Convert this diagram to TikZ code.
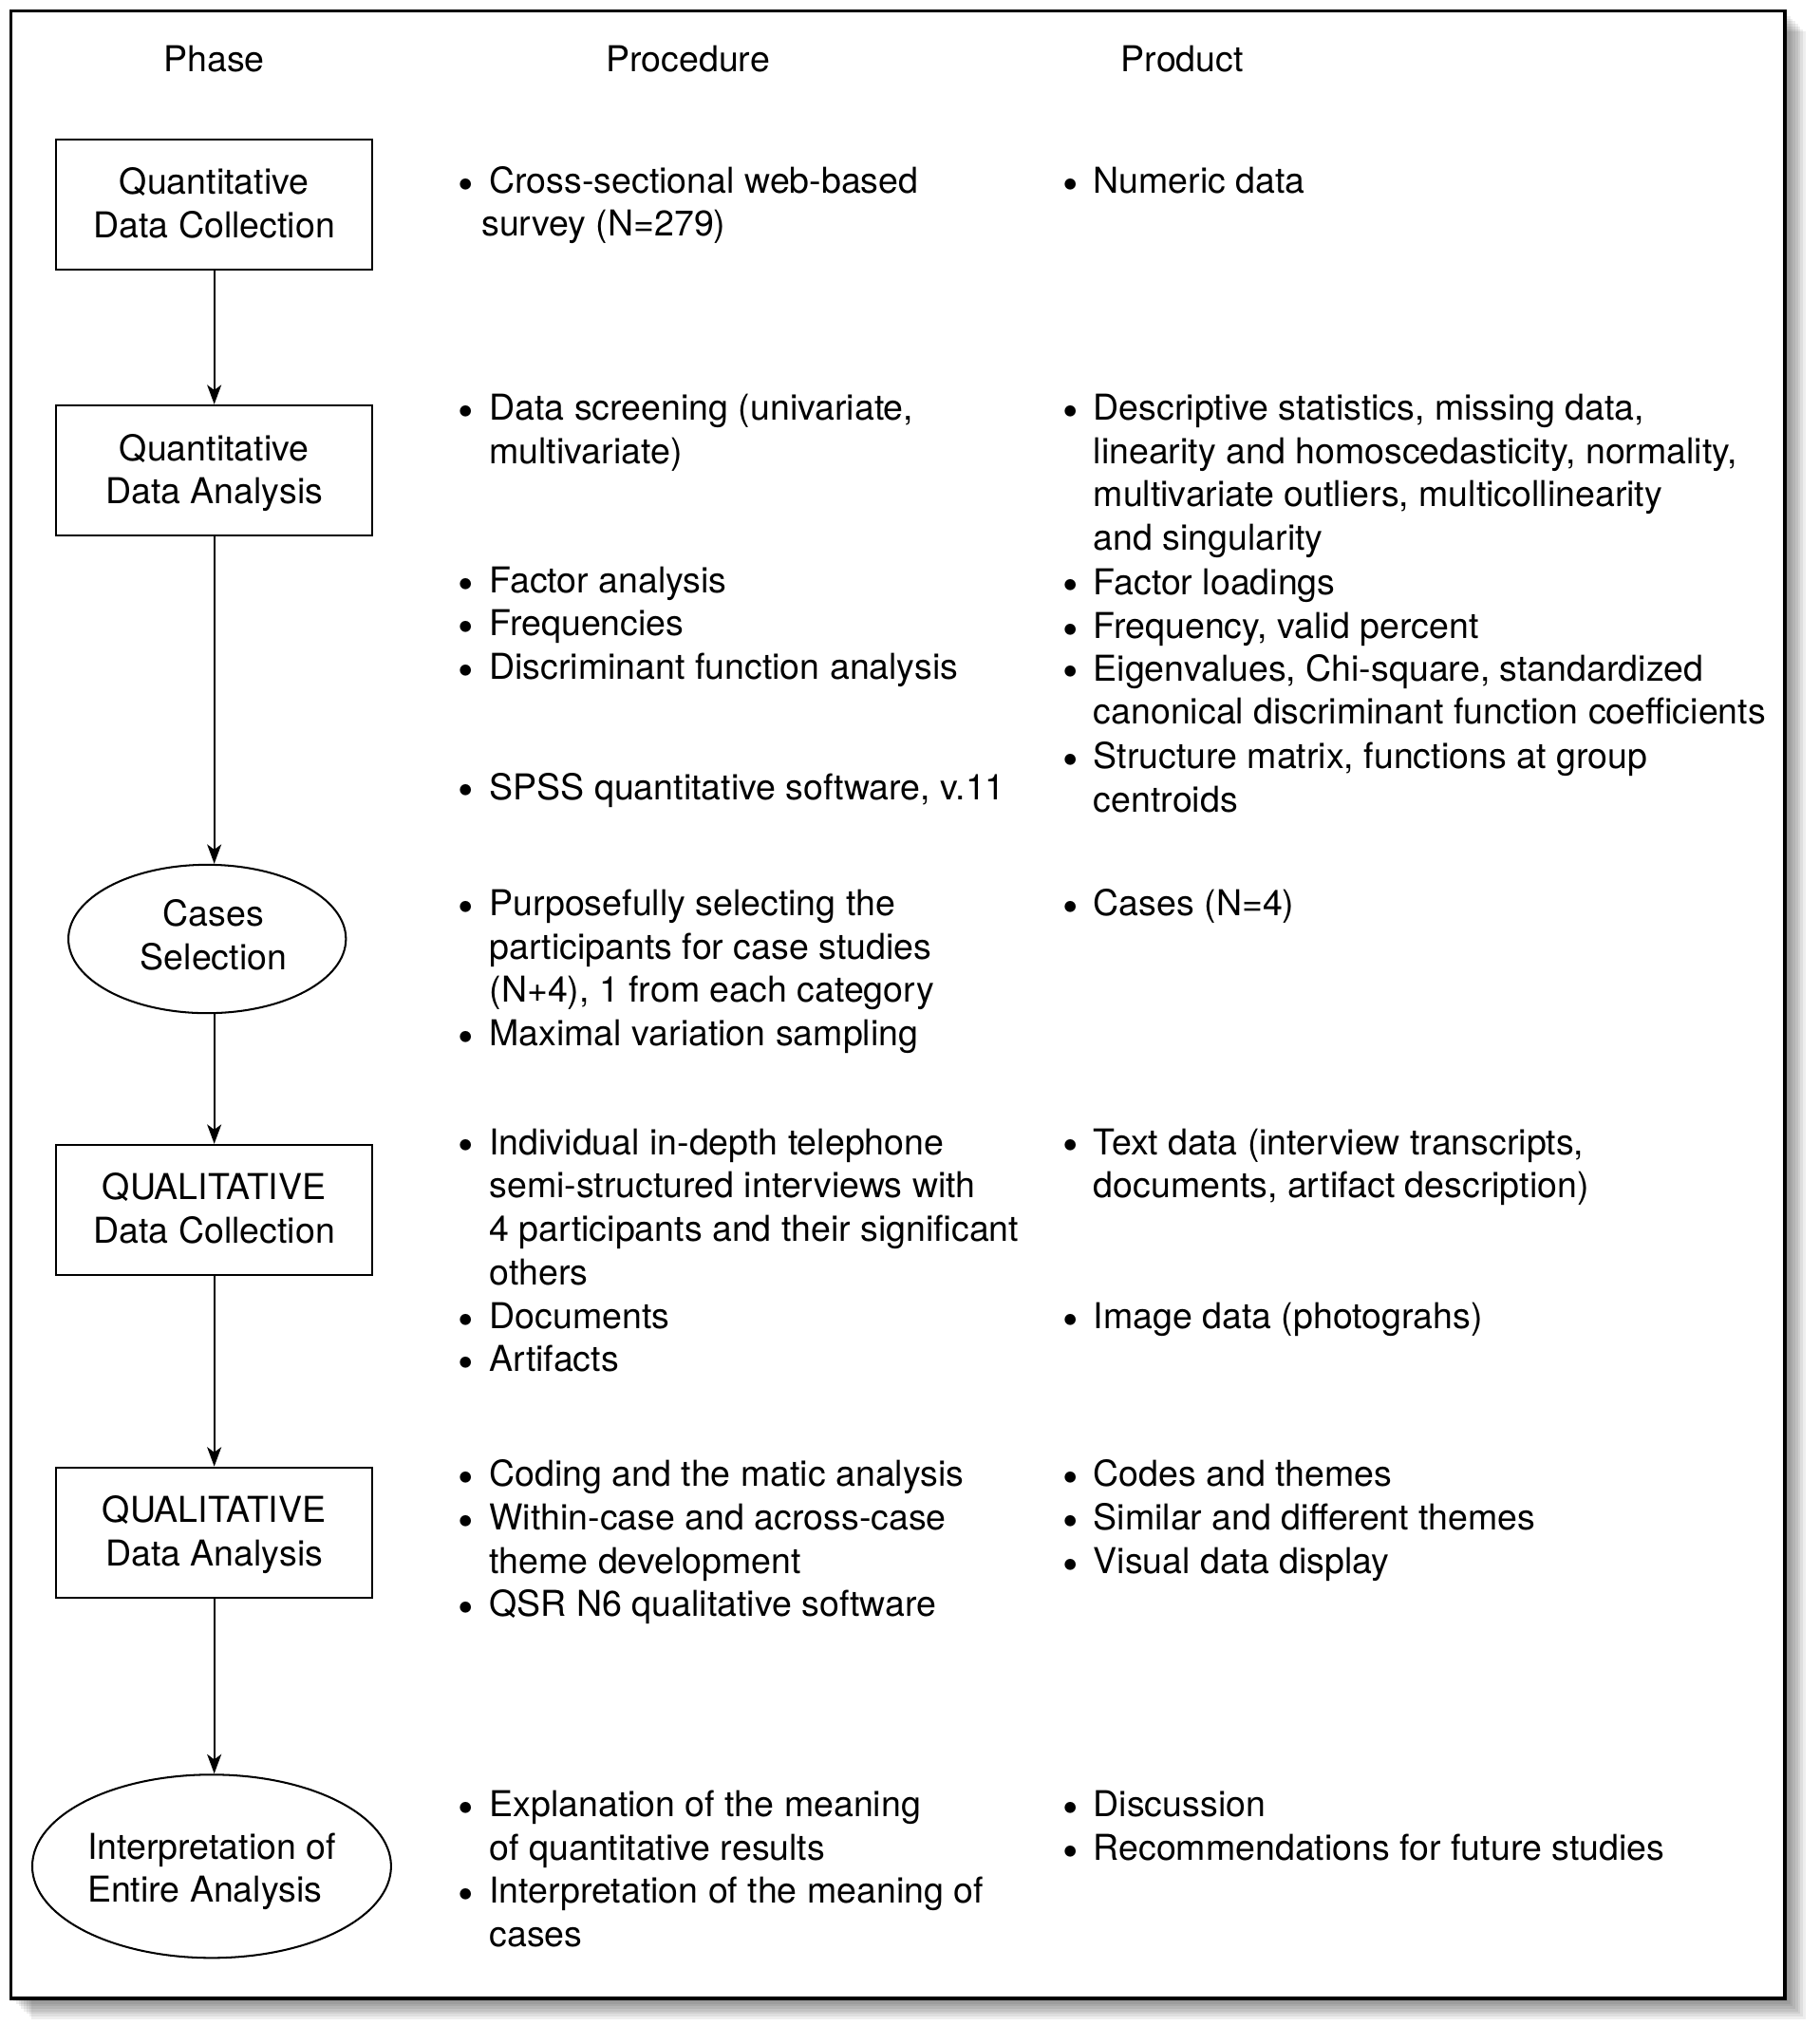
\documentclass[tikz,border=0pt]{standalone}
\usepackage{fontspec}
\setmainfont{TeX Gyre Heros}
\usetikzlibrary{arrows.meta,shapes.geometric}
\newcommand\fs{\fontsize{27.6pt}{33.6pt}\selectfont}
\newcommand\bitem[3]{\node[itemtext] (#1) at #2 {\begin{tabular}[t]{@{}l@{}}\llap{\raisebox{-5pt}{\scalebox{1.25}{\textbullet}}\hspace{12pt}}#3\end{tabular}};}
\newcommand\ptext[2][44.5pt]{\rule{0pt}{#1}\begin{tabular}{@{}c@{}}#2\end{tabular}}
\begin{document}
\begin{tikzpicture}[x=1pt,y=-1pt,
  every node/.style={font=\fs},
  pbox/.style={draw, line width=1.5pt, minimum width=245pt, minimum height=101pt, inner sep=0pt},
  pell/.style={draw, ellipse, line width=1.5pt, inner sep=0pt},
  flow/.style={line width=1.6pt, -{Stealth[length=15pt,width=11pt,inset=4pt]}},
  header/.style={anchor=base, inner sep=0pt},
  itemtext/.style={anchor=base west, inner sep=0pt}]
\useasboundingbox (0,0) rectangle (1410,1569);
% shadow and frame
\foreach \s in {2,4,...,16}
  \fill[black,opacity=0.065] (8.5+\s,8.5+\s) rectangle (1383+\s,1548.5+\s);
\draw[line width=2.6pt, fill=white] (8.5,8.5) rectangle (1383,1548.5);
% headers
\node[header] (hphase) at (166,55.5) {Phase};
\node[header] (hproc) at (533,55.5) {Procedure};
\node[header] (hprod) at (916,55.5) {Product};
% phases
\node[pbox] (b1) at (166,158.5) {\ptext{Quantitative\\Data Collection}};
\node[pbox] (b2) at (166,364.5) {\ptext{Quantitative\\Data Analysis}};
\node[pell, minimum width=215pt, minimum height=115pt] (e3) at (160.5,727.5) {\hspace*{10pt}\ptext[40.5pt]{Cases\\Selection}};
\node[pbox] (b4) at (166,937.5) {\ptext{QUALITATIVE\\Data Collection}};
\node[pbox] (b5) at (166,1187.5) {\ptext{QUALITATIVE\\Data Analysis}};
\node[pell, minimum width=278pt, minimum height=142pt] (e6) at (164,1446) {\rule{0pt}{48.5pt}\begin{tabular}{@{}l@{}}Interpretation of\\Entire Analysis\end{tabular}};
% connectors
\draw[flow] (b1.south) -- (b2.north);
\draw[flow] (b2.south) -- (b2.south |- e3.north);
\draw[flow] (b4.north |- e3.south) -- (b4.north);
\draw[flow] (b4.south) -- (b5.north);
\draw[flow] (b5.south) -- (b5.south |- e6.north);
% procedure column
\bitem{p1}{(379,149.5)}{Cross-sectional web-based\\\hspace*{-6pt}survey (N=279)}
\bitem{p2}{(379,325.5)}{Data screening (univariate,\\multivariate)}
\bitem{p3}{(379,459.5)}{Factor analysis}
\bitem{p4}{(379,492.5)}{Frequencies}
\bitem{p5}{(379,526.5)}{Discriminant function analysis}
\bitem{p6}{(379,619.5)}{SPSS quantitative software, v.11}
\bitem{p7}{(379,709.5)}{Purposefully selecting the\\participants for case studies\\(N+4), 1 from each category}
\bitem{p8}{(379,810.5)}{Maximal variation sampling}
\bitem{p9}{(379,894.5)}{Individual in-depth telephone\\semi-structured interviews with\\4 participants and their significant\\others}
\bitem{p10}{(379,1029.5)}{Documents}
\bitem{p11}{(379,1062.5)}{Artifacts}
\bitem{p12}{(379,1151.5)}{Coding and the matic analysis}
\bitem{p13}{(379,1185.5)}{Within-case and across-case\\theme development}
\bitem{p14}{(379,1252.5)}{QSR N6 qualitative software}
\bitem{p15}{(379,1407.5)}{Explanation of the meaning\\of quantitative results}
\bitem{p16}{(379,1474.5)}{Interpretation of the meaning of\\cases}
% product column
\bitem{r1}{(847,149.5)}{Numeric data}
\bitem{r2}{(847,325.5)}{Descriptive statistics, missing data,\\linearity and homoscedasticity, normality,\\multivariate outliers, multicollinearity\\and singularity}
\bitem{r3}{(847,460.5)}{Factor loadings}
\bitem{r4}{(847,494.5)}{Frequency, valid percent}
\bitem{r5}{(847,527.5)}{Eigenvalues, Chi-square, standardized\\canonical discriminant function coefficients}
\bitem{r6}{(847,595.5)}{Structure matrix, functions at group\\centroids}
\bitem{r7}{(847,709.5)}{Cases (N=4)}
\bitem{r8}{(847,894.5)}{Text data (interview transcripts,\\documents, artifact description)}
\bitem{r9}{(847,1029.5)}{Image data (photograhs)}
\bitem{r10}{(847,1151.5)}{Codes and themes}
\bitem{r11}{(847,1185.5)}{Similar and different themes}
\bitem{r12}{(847,1219.5)}{Visual data display}
\bitem{r13}{(847,1407.5)}{Discussion}
\bitem{r14}{(847,1441.5)}{Recommendations for future studies}
\end{tikzpicture}
\end{document}
